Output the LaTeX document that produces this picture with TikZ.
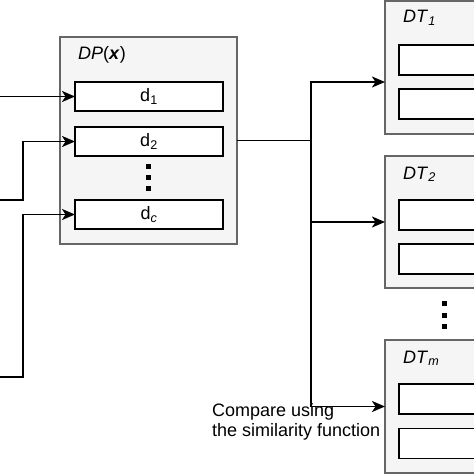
\documentclass[tikz,border=0pt]{standalone}
\usepackage{fontspec}
\setmainfont{Liberation Sans}
\usetikzlibrary{arrows.meta,calc}
\definecolor{dpgray}{HTML}{666666}
\definecolor{dpfill}{HTML}{F5F5F5}
\begin{document}
\begin{tikzpicture}[x=1pt,y=-1pt,
  graybox/.style={draw=dpgray,fill=dpfill,line width=1.6pt,inner sep=0pt,outer sep=0pt},
  slot/.style={draw=black,fill=white,line width=1.9pt,inner sep=0pt,outer sep=0pt,minimum height=29pt,font=\fontsize{18}{20}\selectfont},
  conn/.style={line width=1.9pt,-{Stealth[length=13pt,width=11pt,inset=3.5pt]}},
  wire/.style={line width=1.9pt},
  lbl/.style={font=\fontsize{18}{20}\selectfont,inner sep=0pt},
  dotmark/.style={fill=black,inner sep=0pt,minimum size=5pt}]
\useasboundingbox (0,0) rectangle (474,474);
\clip (0,0) rectangle (474,474);
% DP block
\node[graybox,minimum width=177pt,minimum height=207pt] (DP) at (148.5,140.5) {};
\node[lbl,anchor=base west] (dpl) at (78,59.5) {\textit{DP}(\textbf{\textit{x}})};
\node[slot,minimum width=148pt] (d1) at (149,96.5) {d\textsubscript{1}};
\node[slot,minimum width=148pt] (d2) at (149,141.5) {d\textsubscript{2}};
\node[slot,minimum width=148pt] (dc) at (149,214.5) {d\textsubscript{\textit{c}}};
\node[dotmark] (pa) at (148,166) {};
\node[dotmark] (pb) at (148,177) {};
\node[dotmark] (pc) at (148,188) {};
% DT blocks
\node[graybox,minimum width=135pt,minimum height=133pt] (DT1) at (452.5,67.5) {};
\node[lbl,anchor=base west] (l1) at (403,22.5) {\textit{DT}\textsubscript{\textit{1}}};
\node[slot,minimum width=121pt,minimum height=30pt] (DT1a) at (459.5,60) {};
\node[slot,minimum width=121pt,minimum height=30pt] (DT1b) at (459.5,104) {};
\node[graybox,minimum width=135pt,minimum height=132pt] (DT2) at (452.5,222) {};
\node[lbl,anchor=base west] (l2) at (403,179) {\textit{DT}\textsubscript{\textit{2}}};
\node[slot,minimum width=121pt,minimum height=30pt] (DT2a) at (459.5,215) {};
\node[slot,minimum width=121pt,minimum height=30pt] (DT2b) at (459.5,259) {};
\node[dotmark] (qa) at (444,303) {};
\node[dotmark] (qb) at (444,315) {};
\node[dotmark] (qc) at (444,326) {};
\node[graybox,minimum width=135pt,minimum height=133pt] (DTm) at (452.5,406.5) {};
\node[lbl,anchor=base west] (lm) at (403,363) {\textit{DT}\textsubscript{\textit{m}}};
\node[slot,minimum width=121pt,minimum height=30pt] (DTma) at (459.5,399) {};
\node[slot,minimum width=121pt,minimum height=30pt] (DTmb) at (459.5,443.5) {};
% caption
\node[anchor=base west,align=left,inner sep=0pt,font=\fontsize{18}{20}\selectfont] (cmp) at (212,436) {Compare using\\the similarity function};
% inputs
\coordinate (in1) at (0,96.5);
\coordinate (in2) at (0,200);
\coordinate (in3) at (0,377);
\draw[conn] (in1) -- (d1.west);
\draw[conn] (in2) -- ++(23,0) |- (d2.west);
\draw[conn] (in3) -- ++(23,0) |- (dc.west);
% outputs
\coordinate (J) at (311,140.5);
\draw[wire] (DP.east) -- (J);
\draw[conn] (J) |- ($(DT1.west)+(0,14.5)$);
\draw[conn] (J) |- (DT2.west);
\draw[conn] (J) |- (DTm.west);
\end{tikzpicture}
\end{document}
